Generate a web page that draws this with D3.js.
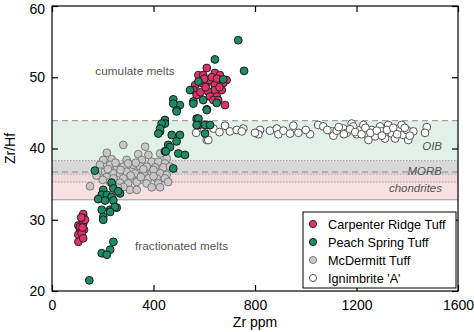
<!DOCTYPE html>
<html>
<head>
<meta charset="utf-8">
<script src="https://cdn.jsdelivr.net/npm/d3@7"></script>
<style>
body { margin: 0; background: #fff; }
svg { display: block; font-family: "Liberation Sans", Arial, sans-serif; }
</style>
</head>
<body>
<svg id="chart" width="474" height="332"></svg>
<script>
// Carpenter Ridge Tuff (pink)
var carpenterX = [123,126,104,123,110,126,104,117,104,123,130,110,115,120,
    610,577,596,642,662,688,564,590,610,623,642,675,557,616,642,669,570,623,649,682,636,655,600,630,660,585,605,650]
var carpenterY = [30.8,30.2,29.2,29.5,28.6,28.6,27.9,28.1,26.9,27.4,30.0,29.0,30.3,28.9,
    51.3,50.3,50.3,50.6,50.3,49.6,48.9,49.2,49.2,49.6,48.9,49.2,48.2,48.0,48.2,48.2,47.5,47.3,47.3,46.1,46.8,46.8,49.8,50.0,48.6,47.9,48.6,49.8]

// Peach Spring Tuff (green)
var peachX = [734,642,757,675,577,544,478,504,491,557,596,610,649,570,445,
    478,557,610,445,577,577,603,623,603,472,504,491,458,498,524,445,478,426,
    491,432,426,419,465,449,570,169,
    235,202,242,196,216,235,268,182,209,242,229,255,196,202,202,248,229,242,229,196,216,147,261]
var peachY = [55.2,52.5,50.9,49.7,49.4,48.2,46.9,46.1,45.4,46.6,46.8,45.5,46.4,44.2,44.0,
    46.3,46.3,45.4,43.5,44.2,43.3,43.3,43.3,42.1,41.9,41.9,41.0,40.5,39.3,39.1,39.6,37.2,42.4,
    45.2,43.5,42.8,42.1,40.2,39.6,43.3,36.9,
    35.2,34.2,34.4,33.5,33.5,33.2,33.7,32.9,32.7,32.7,31.4,31.7,31.4,30.4,30.0,31.8,31.1,26.9,25.8,25.3,25.1,21.5,34.0]

// McDermitt Tuff (grey)
var mcdermittX = [281,367,216,340,380,426,452,202,235,294,354,393,419,445,189,229,255,281,320,347,373,406,439,465,
    189,209,242,268,294,327,360,393,426,452,216,242,281,314,347,380,413,445,229,268,300,334,373,419,458,150,307,334,393,426,281,
    250,300,330,360,400,270,220,310,350,400,240,260,200,175]
var mcdermittY = [40.5,40.25,39.4,39.2,39.1,39.3,38.6,38.4,38.5,38.4,38.4,38.15,38.15,37.9,37.7,37.7,37.45,37.45,37.7,37.5,37.45,37.35,37.35,37.45,
    36.75,36.75,36.5,36.5,36.75,36.5,36.5,36.5,36.5,36.3,36.0,35.8,35.8,35.8,35.6,35.8,35.8,35.8,35.3,35.2,35.1,35.3,35.1,35.1,35.3,34.7,34.2,34.2,34.55,34.55,34.6,
    38.0,37.9,38.0,37.1,37.0,37.0,37.1,36.2,36.0,36.1,34.9,34.5,35.6,36.2]

// Ignimbrite 'A' (white)
var ignimbriteX = [682,701,728,754,748,820,813,859,886,892,912,938,951,971,1017,1049,1069,1102,1109,1122,1148,1161,1181,1187,1201,1214,1227,1240,1247,1260,1273,1293,1299,1312,1325,1339,1352,1365,1378,1385,1398,1404,1424,1477,1470,610,
    568,616,636,600,660,1150,1175,1195,1220,1235,1255,1280,1300,1320,1345,1360,1390,1410,1085,1130,1000,800]
var ignimbriteY = [43.2,42.4,42.6,42.8,42.4,42.6,42.0,42.5,42.8,42.0,42.5,42.1,43.2,42.2,42.0,43.3,43.1,42.4,41.8,42.5,42.8,42.2,43.5,43.1,42.0,42.6,43.3,42.1,41.2,42.6,41.7,43.1,42.4,41.4,43.3,42.1,41.4,42.8,43.3,41.9,42.6,41.2,42.4,43.0,42.2,41.2,
    42.2,41.2,42.8,42.5,42.3,42.0,42.7,42.3,42.0,42.9,42.2,42.5,41.8,42.6,42.9,42.0,42.9,41.8,42.6,43.0,42.6,42.2]

// reference bands
var bandNames = ["OIB", "MORB", "chondrites"]
var bandLow = [38.3, 35.3, 32.8]
var bandHigh = [43.9, 38.3, 36.4]
var morbLine = 36.7

var xTicks = [0, 400, 800, 1200, 1600]
var yTicks = [20, 30, 40, 50, 60]

var svg = d3.select("#chart")
var plotL = 52, plotR = 458, plotT = 6, plotB = 291

var x = d3.scaleLinear().domain([0, 1600]).range([plotL, plotR])
var y = d3.scaleLinear().domain([20, 60]).range([plotB, plotT])

// bands
var bandFill = ["#e2f1e7", "#d8d8d8", "#f7dbdd"]
var bands = svg.append("g")
bandNames.forEach(function(name, i) {
    bands.append("rect")
        .attr("x", x(0)).attr("width", x(1600) - x(0))
        .attr("y", y(bandHigh[i])).attr("height", y(bandLow[i]) - y(bandHigh[i]))
        .style("fill", bandFill[i])
        .style("fill-opacity", i == 2 ? 0.85 : 1)
})

function hline(v, dash, color) {
    bands.append("line")
        .attr("x1", x(0)).attr("x2", x(1600))
        .attr("y1", y(v)).attr("y2", y(v))
        .style("stroke", color)
        .style("stroke-width", 1)
        .style("stroke-dasharray", dash)
}
hline(bandHigh[0], "6,4", "#8a8a8a")
hline(bandLow[0], "1.5,1.5", "#999")
hline(morbLine, "6,4", "#8a8a8a")
hline(bandHigh[2], "1.5,1.5", "#aaa")
hline(bandLow[1], "1.5,1.5", "#999")
hline(bandLow[2], null, "#999")

// band labels
var bandLabelY = [150, 175, 192]
bandNames.forEach(function(name, i) {
    svg.append("text")
        .attr("x", 442).attr("y", bandLabelY[i])
        .attr("text-anchor", "end")
        .style("font-style", "italic")
        .style("font-size", "11.5px")
        .style("fill", "#555")
        .text(name)
})

svg.append("text").attr("x", 135).attr("y", 75).attr("text-anchor", "middle")
    .style("font-size", "11.8px").style("fill", "#555").text("cumulate melts")
svg.append("text").attr("x", 135).attr("y", 250)
    .style("font-size", "11.8px").style("fill", "#555").text("fractionated melts")

// points
function drawSeries(xs, ys, fill, stroke) {
    svg.append("g").selectAll("circle")
        .data(d3.range(xs.length))
        .enter().append("circle")
        .attr("cx", i => x(xs[i]))
        .attr("cy", i => y(ys[i]))
        .attr("r", 3.9)
        .style("fill", fill)
        .style("stroke", stroke)
        .style("stroke-width", 1)
}
drawSeries(ignimbriteX, ignimbriteY, "#fff", "#555")
drawSeries(mcdermittX, mcdermittY, "#c8c8c8", "#7a7a7a")
drawSeries(carpenterX, carpenterY, "#e0336a", "#222")
drawSeries(peachX, peachY, "#1b8c66", "#1a1a1a")

// axes
var xBottom = d3.axisBottom(x).tickValues(xTicks).tickSize(-6).tickPadding(9).tickFormat(d3.format("d"))
var xTop = d3.axisTop(x).tickValues(xTicks).tickSize(-6).tickFormat("")
var yLeft = d3.axisLeft(y).tickValues(yTicks).tickSize(-6).tickPadding(7)
var yRight = d3.axisRight(y).tickValues(yTicks).tickSize(-6).tickFormat("")

function styleAxis(g) {
    g.select(".domain").remove()
    g.selectAll("line").style("stroke", "#000").style("stroke-width", 1.2)
    g.selectAll("text").style("font-size", "14px").style("fill", "#000")
        .style("font-family", "Liberation Sans, Arial, sans-serif")
}
svg.append("g").attr("transform", "translate(0," + plotB + ")").call(xBottom).call(styleAxis)
svg.append("g").attr("transform", "translate(0," + plotT + ")").call(xTop).call(styleAxis)
var yAxisG = svg.append("g").attr("transform", "translate(" + plotL + ",0)").call(yLeft).call(styleAxis)
// keep the top label inside the picture
yAxisG.selectAll(".tick text").filter(d => d == 60).attr("dy", "0.5em")
svg.append("g").attr("transform", "translate(" + plotR + ",0)").call(yRight).call(styleAxis)

svg.append("rect")
    .attr("x", plotL).attr("y", plotT)
    .attr("width", plotR - plotL).attr("height", plotB - plotT)
    .style("fill", "none").style("stroke", "#000").style("stroke-width", 1.2)

svg.append("text").attr("x", (plotL + plotR) / 2).attr("y", 327)
    .attr("text-anchor", "middle").style("font-size", "14px").text("Zr ppm")
svg.append("text")
    .attr("transform", "translate(15," + ((plotT + plotB) / 2) + ") rotate(-90)")
    .attr("text-anchor", "middle").style("font-size", "14px").text("Zr/Hf")

// legend
var legendNames = ["Carpenter Ridge Tuff", "Peach Spring Tuff", "McDermitt Tuff", "Ignimbrite 'A'"]
var legendFill = ["#e0336a", "#1b8c66", "#c8c8c8", "#fff"]
var legendStroke = ["#222", "#1a1a1a", "#7a7a7a", "#555"]
var legend = svg.append("g").attr("transform", "translate(303,212)")
legend.append("rect").attr("width", 153).attr("height", 76)
    .style("fill", "#fff").style("stroke", "#000").style("stroke-width", 1)
legendNames.forEach(function(name, i) {
    var row = legend.append("g").attr("transform", "translate(0," + (12 + i * 18) + ")")
    row.append("circle").attr("cx", 10).attr("cy", 0).attr("r", 3.6)
        .style("fill", legendFill[i]).style("stroke", legendStroke[i])
    row.append("text").attr("x", 25).attr("y", 4.5)
        .style("font-size", "12.7px").text(name)
})
</script>
</body>
</html>
